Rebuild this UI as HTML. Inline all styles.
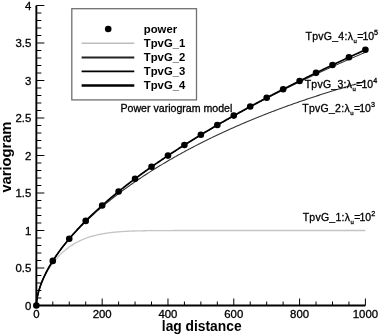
<!DOCTYPE html><html><head><meta charset="utf-8"><style>html,body{margin:0;padding:0;background:#fff}svg{display:block}</style></head><body><svg width="379" height="334" viewBox="0 0 379 334">
<style>.r{stroke:#000;stroke-width:0.3px}</style>
<rect width="379" height="334" fill="#fff"/>
<polyline points="36.35,305.50 36.35,305.19 36.35,305.15 36.35,305.11 36.36,305.06 36.36,305.01 36.36,304.95 36.36,304.88 36.36,304.81 36.37,304.73 36.37,304.64 36.37,304.53 36.38,304.41 36.38,304.28 36.39,304.14 36.40,303.97 36.41,303.79 36.42,303.58 36.44,303.35 36.46,303.10 36.48,302.81 36.51,302.48 36.55,302.12 36.59,301.71 36.64,301.26 36.70,300.75 36.78,300.17 36.87,299.53 36.98,298.82 37.12,298.01 37.29,297.12 37.49,296.11 37.73,294.98 38.03,293.72 38.39,292.31 38.83,290.74 39.37,288.98 40.02,287.02 40.81,284.83 41.77,282.40 42.93,279.71 43.74,277.97 44.55,276.33 45.36,274.77 46.16,273.28 46.97,271.85 47.78,270.49 48.59,269.17 49.40,267.91 50.20,266.69 51.01,265.52 51.82,264.39 52.63,263.30 53.44,262.24 54.25,261.21 55.05,260.22 55.86,259.26 56.67,258.34 57.48,257.44 58.29,256.56 59.09,255.72 59.90,254.89 60.71,254.10 61.52,253.32 62.33,252.57 63.14,251.85 63.94,251.14 64.75,250.45 65.56,249.79 66.37,249.14 67.18,248.52 67.98,247.91 68.79,247.32 69.60,246.74 70.41,246.19 71.22,245.65 72.03,245.13 72.83,244.62 73.64,244.12 74.45,243.65 75.26,243.18 76.07,242.73 76.88,242.30 77.68,241.88 78.49,241.47 79.30,241.07 80.11,240.68 80.92,240.31 81.72,239.95 82.53,239.60 83.34,239.26 84.15,238.93 84.96,238.62 85.77,238.31 86.57,238.01 87.38,237.73 88.19,237.45 89.00,237.18 89.81,236.92 90.61,236.67 91.42,236.43 92.23,236.19 93.04,235.97 93.85,235.75 94.66,235.54 95.46,235.33 96.27,235.14 97.08,234.95 97.89,234.76 98.70,234.59 99.50,234.42 100.31,234.25 101.12,234.10 101.93,233.94 102.74,233.80 103.55,233.66 104.35,233.52 105.16,233.39 105.97,233.26 106.78,233.14 107.59,233.03 108.39,232.92 109.20,232.81 110.01,232.71 110.82,232.61 111.63,232.51 112.44,232.42 113.24,232.33 114.05,232.25 114.86,232.17 115.67,232.09 116.48,232.02 117.28,231.94 118.09,231.88 118.90,231.81 119.71,231.75 120.52,231.69 121.33,231.63 122.13,231.58 122.94,231.52 123.75,231.47 124.56,231.43 125.37,231.38 126.17,231.34 126.98,231.29 127.79,231.25 128.60,231.22 129.41,231.18 130.22,231.15 131.02,231.11 131.83,231.08 132.64,231.05 133.45,231.02 134.26,230.99 135.06,230.97 135.87,230.94 136.68,230.92 137.49,230.90 138.30,230.88 139.11,230.86 139.91,230.84 140.72,230.82 141.53,230.80 142.34,230.78 143.15,230.77 143.96,230.75 144.76,230.74 145.57,230.73 146.38,230.71 147.19,230.70 148.00,230.69 148.80,230.68 149.61,230.67 150.42,230.66 151.23,230.65 152.04,230.64 152.85,230.63 153.65,230.62 154.46,230.62 155.27,230.61 156.08,230.60 156.89,230.60 157.69,230.59 158.50,230.59 159.31,230.58 160.12,230.58 160.93,230.57 161.74,230.57 162.54,230.56 163.35,230.56 164.16,230.56 164.97,230.55 165.78,230.55 166.58,230.55 167.39,230.54 168.20,230.54 169.01,230.54 169.82,230.53 170.63,230.53 171.43,230.53 172.24,230.53 173.05,230.53 173.86,230.52 174.67,230.52 175.47,230.52 176.28,230.52 177.09,230.52 177.90,230.52 178.71,230.52 179.52,230.52 180.32,230.51 181.13,230.51 181.94,230.51 182.75,230.51 183.56,230.51 184.36,230.51 185.17,230.51 185.98,230.51 186.79,230.51 187.60,230.51 188.41,230.51 189.21,230.51 190.02,230.51 190.83,230.51 191.64,230.51 192.45,230.50 193.25,230.50 194.06,230.50 194.87,230.50 195.68,230.50 196.49,230.50 197.30,230.50 198.10,230.50 198.91,230.50 199.72,230.50 200.53,230.50 201.34,230.50 202.15,230.50 202.95,230.50 203.76,230.50 204.57,230.50 205.38,230.50 206.19,230.50 206.99,230.50 207.80,230.50 208.61,230.50 209.42,230.50 210.23,230.50 211.04,230.50 211.84,230.50 212.65,230.50 213.46,230.50 214.27,230.50 215.08,230.50 215.88,230.50 216.69,230.50 217.50,230.50 218.31,230.50 219.12,230.50 219.93,230.50 220.73,230.50 221.54,230.50 222.35,230.50 223.16,230.50 223.97,230.50 224.77,230.50 225.58,230.50 226.39,230.50 227.20,230.50 228.01,230.50 228.82,230.50 229.62,230.50 230.43,230.50 231.24,230.50 232.05,230.50 232.86,230.50 233.66,230.50 234.47,230.50 235.28,230.50 236.09,230.50 236.90,230.50 237.71,230.50 238.51,230.50 239.32,230.50 240.13,230.50 240.94,230.50 241.75,230.50 242.55,230.50 243.36,230.50 244.17,230.50 244.98,230.50 245.79,230.50 246.60,230.50 247.40,230.50 248.21,230.50 249.02,230.50 249.83,230.50 250.64,230.50 251.44,230.50 252.25,230.50 253.06,230.50 253.87,230.50 254.68,230.50 255.49,230.50 256.29,230.50 257.10,230.50 257.91,230.50 258.72,230.50 259.53,230.50 260.33,230.50 261.14,230.50 261.95,230.50 262.76,230.50 263.57,230.50 264.38,230.50 265.18,230.50 265.99,230.50 266.80,230.50 267.61,230.50 268.42,230.50 269.23,230.50 270.03,230.50 270.84,230.50 271.65,230.50 272.46,230.50 273.27,230.50 274.07,230.50 274.88,230.50 275.69,230.50 276.50,230.50 277.31,230.50 278.12,230.50 278.92,230.50 279.73,230.50 280.54,230.50 281.35,230.50 282.16,230.50 282.96,230.50 283.77,230.50 284.58,230.50 285.39,230.50 286.20,230.50 287.01,230.50 287.81,230.50 288.62,230.50 289.43,230.50 290.24,230.50 291.05,230.50 291.85,230.50 292.66,230.50 293.47,230.50 294.28,230.50 295.09,230.50 295.90,230.50 296.70,230.50 297.51,230.50 298.32,230.50 299.13,230.50 299.94,230.50 300.74,230.50 301.55,230.50 302.36,230.50 303.17,230.50 303.98,230.50 304.79,230.50 305.59,230.50 306.40,230.50 307.21,230.50 308.02,230.50 308.83,230.50 309.63,230.50 310.44,230.50 311.25,230.50 312.06,230.50 312.87,230.50 313.68,230.50 314.48,230.50 315.29,230.50 316.10,230.50 316.91,230.50 317.72,230.50 318.52,230.50 319.33,230.50 320.14,230.50 320.95,230.50 321.76,230.50 322.57,230.50 323.37,230.50 324.18,230.50 324.99,230.50 325.80,230.50 326.61,230.50 327.41,230.50 328.22,230.50 329.03,230.50 329.84,230.50 330.65,230.50 331.46,230.50 332.26,230.50 333.07,230.50 333.88,230.50 334.69,230.50 335.50,230.50 336.31,230.50 337.11,230.50 337.92,230.50 338.73,230.50 339.54,230.50 340.35,230.50 341.15,230.50 341.96,230.50 342.77,230.50 343.58,230.50 344.39,230.50 345.20,230.50 346.00,230.50 346.81,230.50 347.62,230.50 348.43,230.50 349.24,230.50 350.04,230.50 350.85,230.50 351.66,230.50 352.47,230.50 353.28,230.50 354.09,230.50 354.89,230.50 355.70,230.50 356.51,230.50 357.32,230.50 358.13,230.50 358.93,230.50 359.74,230.50 360.55,230.50 361.36,230.50 362.17,230.50 362.98,230.50 363.78,230.50 364.59,230.50 365.40,230.50" fill="none" stroke="#c4c4c4" stroke-width="1.3"/>
<polyline points="36.35,305.50 36.35,305.19 36.35,305.15 36.35,305.11 36.36,305.06 36.36,305.01 36.36,304.95 36.36,304.88 36.36,304.81 36.37,304.73 36.37,304.64 36.37,304.53 36.38,304.41 36.38,304.28 36.39,304.14 36.40,303.97 36.41,303.79 36.42,303.58 36.44,303.35 36.46,303.10 36.48,302.81 36.51,302.48 36.55,302.12 36.59,301.71 36.64,301.26 36.70,300.75 36.78,300.17 36.87,299.53 36.98,298.81 37.12,298.01 37.29,297.11 37.49,296.10 37.73,294.97 38.03,293.70 38.39,292.28 38.83,290.69 39.37,288.91 40.02,286.91 40.81,284.68 41.77,282.18 42.93,279.37 43.74,277.55 44.55,275.81 45.36,274.14 46.16,272.53 46.97,270.98 47.78,269.47 48.59,268.02 49.40,266.60 50.20,265.21 51.01,263.86 51.82,262.55 52.63,261.26 53.44,260.00 54.25,258.76 55.05,257.55 55.86,256.36 56.67,255.19 57.48,254.04 58.29,252.91 59.09,251.79 59.90,250.70 60.71,249.62 61.52,248.55 62.33,247.50 63.14,246.47 63.94,245.45 64.75,244.44 65.56,243.44 66.37,242.46 67.18,241.48 67.98,240.52 68.79,239.57 69.60,238.63 70.41,237.70 71.22,236.78 72.03,235.86 72.83,234.96 73.64,234.07 74.45,233.18 75.26,232.31 76.07,231.44 76.88,230.58 77.68,229.72 78.49,228.88 79.30,228.04 80.11,227.21 80.92,226.39 81.72,225.57 82.53,224.76 83.34,223.95 84.15,223.16 84.96,222.36 85.77,221.58 86.57,220.80 87.38,220.03 88.19,219.26 89.00,218.49 89.81,217.74 90.61,216.98 91.42,216.24 92.23,215.50 93.04,214.76 93.85,214.03 94.66,213.30 95.46,212.58 96.27,211.86 97.08,211.15 97.89,210.44 98.70,209.74 99.50,209.04 100.31,208.34 101.12,207.65 101.93,206.96 102.74,206.28 103.55,205.60 104.35,204.93 105.16,204.26 105.97,203.59 106.78,202.93 107.59,202.27 108.39,201.61 109.20,200.96 110.01,200.31 110.82,199.67 111.63,199.02 112.44,198.39 113.24,197.75 114.05,197.12 114.86,196.49 115.67,195.87 116.48,195.25 117.28,194.63 118.09,194.01 118.90,193.40 119.71,192.79 120.52,192.18 121.33,191.58 122.13,190.98 122.94,190.38 123.75,189.79 124.56,189.20 125.37,188.61 126.17,188.02 126.98,187.44 127.79,186.86 128.60,186.28 129.41,185.71 130.22,185.13 131.02,184.56 131.83,184.00 132.64,183.43 133.45,182.87 134.26,182.31 135.06,181.75 135.87,181.20 136.68,180.64 137.49,180.09 138.30,179.55 139.11,179.00 139.91,178.46 140.72,177.92 141.53,177.38 142.34,176.84 143.15,176.31 143.96,175.78 144.76,175.25 145.57,174.72 146.38,174.20 147.19,173.68 148.00,173.15 148.80,172.64 149.61,172.12 150.42,171.61 151.23,171.09 152.04,170.58 152.85,170.08 153.65,169.57 154.46,169.07 155.27,168.56 156.08,168.06 156.89,167.57 157.69,167.07 158.50,166.57 159.31,166.08 160.12,165.59 160.93,165.10 161.74,164.62 162.54,164.13 163.35,163.65 164.16,163.17 164.97,162.69 165.78,162.21 166.58,161.74 167.39,161.26 168.20,160.79 169.01,160.32 169.82,159.85 170.63,159.38 171.43,158.92 172.24,158.45 173.05,157.99 173.86,157.53 174.67,157.07 175.47,156.62 176.28,156.16 177.09,155.71 177.90,155.26 178.71,154.81 179.52,154.36 180.32,153.91 181.13,153.47 181.94,153.02 182.75,152.58 183.56,152.14 184.36,151.70 185.17,151.26 185.98,150.83 186.79,150.39 187.60,149.96 188.41,149.53 189.21,149.10 190.02,148.67 190.83,148.24 191.64,147.81 192.45,147.39 193.25,146.97 194.06,146.55 194.87,146.13 195.68,145.71 196.49,145.29 197.30,144.88 198.10,144.46 198.91,144.05 199.72,143.64 200.53,143.23 201.34,142.82 202.15,142.41 202.95,142.00 203.76,141.60 204.57,141.20 205.38,140.80 206.19,140.39 206.99,140.00 207.80,139.60 208.61,139.20 209.42,138.81 210.23,138.41 211.04,138.02 211.84,137.63 212.65,137.24 213.46,136.85 214.27,136.46 215.08,136.07 215.88,135.69 216.69,135.31 217.50,134.92 218.31,134.54 219.12,134.16 219.93,133.78 220.73,133.41 221.54,133.03 222.35,132.65 223.16,132.28 223.97,131.91 224.77,131.54 225.58,131.16 226.39,130.80 227.20,130.43 228.01,130.06 228.82,129.69 229.62,129.33 230.43,128.97 231.24,128.60 232.05,128.24 232.86,127.88 233.66,127.52 234.47,127.17 235.28,126.81 236.09,126.45 236.90,126.10 237.71,125.75 238.51,125.39 239.32,125.04 240.13,124.69 240.94,124.34 241.75,124.00 242.55,123.65 243.36,123.30 244.17,122.96 244.98,122.62 245.79,122.27 246.60,121.93 247.40,121.59 248.21,121.25 249.02,120.92 249.83,120.58 250.64,120.24 251.44,119.91 252.25,119.57 253.06,119.24 253.87,118.91 254.68,118.58 255.49,118.25 256.29,117.92 257.10,117.59 257.91,117.26 258.72,116.94 259.53,116.61 260.33,116.29 261.14,115.97 261.95,115.64 262.76,115.32 263.57,115.00 264.38,114.68 265.18,114.37 265.99,114.05 266.80,113.73 267.61,113.42 268.42,113.10 269.23,112.79 270.03,112.48 270.84,112.17 271.65,111.86 272.46,111.55 273.27,111.24 274.07,110.93 274.88,110.62 275.69,110.32 276.50,110.01 277.31,109.71 278.12,109.41 278.92,109.11 279.73,108.80 280.54,108.50 281.35,108.20 282.16,107.91 282.96,107.61 283.77,107.31 284.58,107.02 285.39,106.72 286.20,106.43 287.01,106.14 287.81,105.84 288.62,105.55 289.43,105.26 290.24,104.97 291.05,104.68 291.85,104.40 292.66,104.11 293.47,103.82 294.28,103.54 295.09,103.25 295.90,102.97 296.70,102.69 297.51,102.40 298.32,102.12 299.13,101.84 299.94,101.56 300.74,101.29 301.55,101.01 302.36,100.73 303.17,100.46 303.98,100.18 304.79,99.91 305.59,99.63 306.40,99.36 307.21,99.09 308.02,98.82 308.83,98.55 309.63,98.28 310.44,98.01 311.25,97.74 312.06,97.47 312.87,97.21 313.68,96.94 314.48,96.68 315.29,96.41 316.10,96.15 316.91,95.89 317.72,95.63 318.52,95.37 319.33,95.11 320.14,94.85 320.95,94.59 321.76,94.33 322.57,94.07 323.37,93.82 324.18,93.56 324.99,93.31 325.80,93.05 326.61,92.80 327.41,92.55 328.22,92.30 329.03,92.05 329.84,91.80 330.65,91.55 331.46,91.30 332.26,91.05 333.07,90.80 333.88,90.56 334.69,90.31 335.50,90.07 336.31,89.82 337.11,89.58 337.92,89.34 338.73,89.09 339.54,88.85 340.35,88.61 341.15,88.37 341.96,88.13 342.77,87.90 343.58,87.66 344.39,87.42 345.20,87.18 346.00,86.95 346.81,86.71 347.62,86.48 348.43,86.25 349.24,86.01 350.04,85.78 350.85,85.55 351.66,85.32 352.47,85.09 353.28,84.86 354.09,84.63 354.89,84.40 355.70,84.18 356.51,83.95 357.32,83.72 358.13,83.50 358.93,83.27 359.74,83.05 360.55,82.83 361.36,82.60 362.17,82.38 362.98,82.16 363.78,81.94 364.59,81.72 365.40,81.50" fill="none" stroke="#333" stroke-width="1.1"/>
<polyline points="36.35,305.50 36.35,305.19 36.35,305.15 36.35,305.11 36.36,305.06 36.36,305.01 36.36,304.95 36.36,304.88 36.36,304.81 36.37,304.73 36.37,304.64 36.37,304.53 36.38,304.41 36.38,304.28 36.39,304.14 36.40,303.97 36.41,303.79 36.42,303.58 36.44,303.35 36.46,303.10 36.48,302.81 36.51,302.48 36.55,302.12 36.59,301.71 36.64,301.26 36.70,300.75 36.78,300.17 36.87,299.53 36.98,298.81 37.12,298.01 37.29,297.11 37.49,296.10 37.73,294.97 38.03,293.70 38.39,292.28 38.83,290.69 39.37,288.91 40.02,286.91 40.81,284.67 41.77,282.17 42.93,279.36 43.74,277.53 44.55,275.79 45.36,274.11 46.16,272.50 46.97,270.94 47.78,269.43 48.59,267.97 49.40,266.54 50.20,265.15 51.01,263.80 51.82,262.47 52.63,261.18 53.44,259.91 54.25,258.66 55.05,257.44 55.86,256.24 56.67,255.06 57.48,253.90 58.29,252.76 59.09,251.63 59.90,250.53 60.71,249.43 61.52,248.36 62.33,247.29 63.14,246.25 63.94,245.21 64.75,244.19 65.56,243.18 66.37,242.18 67.18,241.19 67.98,240.21 68.79,239.24 69.60,238.29 70.41,237.34 71.22,236.40 72.03,235.47 72.83,234.55 73.64,233.64 74.45,232.73 75.26,231.84 76.07,230.95 76.88,230.07 77.68,229.20 78.49,228.33 79.30,227.47 80.11,226.62 80.92,225.77 81.72,224.93 82.53,224.10 83.34,223.27 84.15,222.45 84.96,221.63 85.77,220.82 86.57,220.02 87.38,219.22 88.19,218.42 89.00,217.64 89.81,216.85 90.61,216.07 91.42,215.30 92.23,214.53 93.04,213.77 93.85,213.00 94.66,212.25 95.46,211.50 96.27,210.75 97.08,210.01 97.89,209.27 98.70,208.53 99.50,207.80 100.31,207.08 101.12,206.35 101.93,205.63 102.74,204.92 103.55,204.21 104.35,203.50 105.16,202.79 105.97,202.09 106.78,201.39 107.59,200.70 108.39,200.01 109.20,199.32 110.01,198.63 110.82,197.95 111.63,197.27 112.44,196.60 113.24,195.92 114.05,195.25 114.86,194.59 115.67,193.92 116.48,193.26 117.28,192.60 118.09,191.95 118.90,191.29 119.71,190.64 120.52,190.00 121.33,189.35 122.13,188.71 122.94,188.07 123.75,187.43 124.56,186.79 125.37,186.16 126.17,185.53 126.98,184.90 127.79,184.28 128.60,183.65 129.41,183.03 130.22,182.41 131.02,181.80 131.83,181.18 132.64,180.57 133.45,179.96 134.26,179.35 135.06,178.75 135.87,178.14 136.68,177.54 137.49,176.94 138.30,176.34 139.11,175.75 139.91,175.15 140.72,174.56 141.53,173.97 142.34,173.38 143.15,172.80 143.96,172.21 144.76,171.63 145.57,171.05 146.38,170.47 147.19,169.89 148.00,169.32 148.80,168.74 149.61,168.17 150.42,167.60 151.23,167.03 152.04,166.46 152.85,165.90 153.65,165.33 154.46,164.77 155.27,164.21 156.08,163.65 156.89,163.10 157.69,162.54 158.50,161.99 159.31,161.43 160.12,160.88 160.93,160.33 161.74,159.78 162.54,159.24 163.35,158.69 164.16,158.15 164.97,157.61 165.78,157.06 166.58,156.52 167.39,155.99 168.20,155.45 169.01,154.91 169.82,154.38 170.63,153.85 171.43,153.32 172.24,152.79 173.05,152.26 173.86,151.73 174.67,151.20 175.47,150.68 176.28,150.15 177.09,149.63 177.90,149.11 178.71,148.59 179.52,148.07 180.32,147.56 181.13,147.04 181.94,146.52 182.75,146.01 183.56,145.50 184.36,144.99 185.17,144.48 185.98,143.97 186.79,143.46 187.60,142.95 188.41,142.45 189.21,141.94 190.02,141.44 190.83,140.94 191.64,140.43 192.45,139.93 193.25,139.43 194.06,138.94 194.87,138.44 195.68,137.94 196.49,137.45 197.30,136.95 198.10,136.46 198.91,135.97 199.72,135.48 200.53,134.99 201.34,134.50 202.15,134.01 202.95,133.53 203.76,133.04 204.57,132.56 205.38,132.07 206.19,131.59 206.99,131.11 207.80,130.63 208.61,130.15 209.42,129.67 210.23,129.19 211.04,128.71 211.84,128.24 212.65,127.76 213.46,127.29 214.27,126.81 215.08,126.34 215.88,125.87 216.69,125.40 217.50,124.93 218.31,124.46 219.12,123.99 219.93,123.52 220.73,123.06 221.54,122.59 222.35,122.12 223.16,121.66 223.97,121.20 224.77,120.74 225.58,120.27 226.39,119.81 227.20,119.35 228.01,118.89 228.82,118.44 229.62,117.98 230.43,117.52 231.24,117.07 232.05,116.61 232.86,116.16 233.66,115.70 234.47,115.25 235.28,114.80 236.09,114.35 236.90,113.90 237.71,113.45 238.51,113.00 239.32,112.55 240.13,112.10 240.94,111.66 241.75,111.21 242.55,110.76 243.36,110.32 244.17,109.88 244.98,109.43 245.79,108.99 246.60,108.55 247.40,108.11 248.21,107.67 249.02,107.23 249.83,106.79 250.64,106.35 251.44,105.91 252.25,105.48 253.06,105.04 253.87,104.61 254.68,104.17 255.49,103.74 256.29,103.30 257.10,102.87 257.91,102.44 258.72,102.01 259.53,101.58 260.33,101.15 261.14,100.72 261.95,100.29 262.76,99.86 263.57,99.43 264.38,99.01 265.18,98.58 265.99,98.15 266.80,97.73 267.61,97.30 268.42,96.88 269.23,96.46 270.03,96.04 270.84,95.61 271.65,95.19 272.46,94.77 273.27,94.35 274.07,93.93 274.88,93.51 275.69,93.09 276.50,92.68 277.31,92.26 278.12,91.84 278.92,91.43 279.73,91.01 280.54,90.60 281.35,90.18 282.16,89.77 282.96,89.36 283.77,88.94 284.58,88.53 285.39,88.12 286.20,87.71 287.01,87.30 287.81,86.89 288.62,86.48 289.43,86.07 290.24,85.66 291.05,85.26 291.85,84.85 292.66,84.44 293.47,84.04 294.28,83.63 295.09,83.23 295.90,82.82 296.70,82.42 297.51,82.01 298.32,81.61 299.13,81.21 299.94,80.81 300.74,80.41 301.55,80.01 302.36,79.61 303.17,79.21 303.98,78.81 304.79,78.41 305.59,78.01 306.40,77.61 307.21,77.21 308.02,76.82 308.83,76.42 309.63,76.03 310.44,75.63 311.25,75.24 312.06,74.84 312.87,74.45 313.68,74.05 314.48,73.66 315.29,73.27 316.10,72.88 316.91,72.49 317.72,72.09 318.52,71.70 319.33,71.31 320.14,70.92 320.95,70.54 321.76,70.15 322.57,69.76 323.37,69.37 324.18,68.98 324.99,68.60 325.80,68.21 326.61,67.82 327.41,67.44 328.22,67.05 329.03,66.67 329.84,66.29 330.65,65.90 331.46,65.52 332.26,65.14 333.07,64.75 333.88,64.37 334.69,63.99 335.50,63.61 336.31,63.23 337.11,62.85 337.92,62.47 338.73,62.09 339.54,61.71 340.35,61.33 341.15,60.95 341.96,60.58 342.77,60.20 343.58,59.82 344.39,59.45 345.20,59.07 346.00,58.69 346.81,58.32 347.62,57.94 348.43,57.57 349.24,57.20 350.04,56.82 350.85,56.45 351.66,56.08 352.47,55.70 353.28,55.33 354.09,54.96 354.89,54.59 355.70,54.22 356.51,53.85 357.32,53.48 358.13,53.11 358.93,52.74 359.74,52.37 360.55,52.00 361.36,51.63 362.17,51.27 362.98,50.90 363.78,50.53 364.59,50.17 365.40,49.80" fill="none" stroke="#000" stroke-width="1.7"/>
<polyline points="36.35,305.50 36.35,305.19 36.35,305.15 36.35,305.11 36.36,305.06 36.36,305.01 36.36,304.95 36.36,304.88 36.36,304.81 36.37,304.73 36.37,304.64 36.37,304.53 36.38,304.41 36.38,304.28 36.39,304.14 36.40,303.97 36.41,303.79 36.42,303.58 36.44,303.35 36.46,303.10 36.48,302.81 36.51,302.48 36.55,302.12 36.59,301.71 36.64,301.26 36.70,300.75 36.78,300.17 36.87,299.53 36.98,298.81 37.12,298.01 37.29,297.11 37.49,296.10 37.73,294.97 38.03,293.70 38.39,292.28 38.83,290.69 39.37,288.91 40.02,286.91 40.81,284.67 41.77,282.17 42.93,279.36 43.74,277.53 44.55,275.79 45.36,274.12 46.16,272.50 46.97,270.94 47.78,269.44 48.59,267.97 49.40,266.54 50.20,265.16 51.01,263.80 51.82,262.48 52.63,261.18 53.44,259.91 54.25,258.67 55.05,257.44 55.86,256.24 56.67,255.06 57.48,253.91 58.29,252.76 59.09,251.64 59.90,250.53 60.71,249.44 61.52,248.36 62.33,247.30 63.14,246.25 63.94,245.22 64.75,244.20 65.56,243.19 66.37,242.19 67.18,241.20 67.98,240.22 68.79,239.25 69.60,238.30 70.41,237.35 71.22,236.41 72.03,235.48 72.83,234.56 73.64,233.65 74.45,232.75 75.26,231.86 76.07,230.97 76.88,230.09 77.68,229.21 78.49,228.35 79.30,227.49 80.11,226.64 80.92,225.79 81.72,224.95 82.53,224.12 83.34,223.30 84.15,222.47 84.96,221.66 85.77,220.85 86.57,220.05 87.38,219.25 88.19,218.46 89.00,217.67 89.81,216.88 90.61,216.11 91.42,215.33 92.23,214.57 93.04,213.80 93.85,213.04 94.66,212.29 95.46,211.54 96.27,210.79 97.08,210.05 97.89,209.31 98.70,208.58 99.50,207.85 100.31,207.12 101.12,206.40 101.93,205.68 102.74,204.97 103.55,204.26 104.35,203.55 105.16,202.85 105.97,202.15 106.78,201.45 107.59,200.76 108.39,200.07 109.20,199.38 110.01,198.70 110.82,198.01 111.63,197.34 112.44,196.66 113.24,195.99 114.05,195.32 114.86,194.66 115.67,193.99 116.48,193.33 117.28,192.68 118.09,192.02 118.90,191.37 119.71,190.72 120.52,190.08 121.33,189.43 122.13,188.79 122.94,188.15 123.75,187.52 124.56,186.88 125.37,186.25 126.17,185.62 126.98,185.00 127.79,184.37 128.60,183.75 129.41,183.13 130.22,182.51 131.02,181.90 131.83,181.29 132.64,180.68 133.45,180.07 134.26,179.46 135.06,178.86 135.87,178.26 136.68,177.66 137.49,177.06 138.30,176.46 139.11,175.87 139.91,175.28 140.72,174.68 141.53,174.10 142.34,173.51 143.15,172.93 143.96,172.34 144.76,171.76 145.57,171.18 146.38,170.61 147.19,170.03 148.00,169.46 148.80,168.89 149.61,168.32 150.42,167.75 151.23,167.18 152.04,166.62 152.85,166.05 153.65,165.49 154.46,164.93 155.27,164.37 156.08,163.82 156.89,163.26 157.69,162.71 158.50,162.16 159.31,161.61 160.12,161.06 160.93,160.51 161.74,159.96 162.54,159.42 163.35,158.88 164.16,158.33 164.97,157.79 165.78,157.26 166.58,156.72 167.39,156.18 168.20,155.65 169.01,155.12 169.82,154.58 170.63,154.05 171.43,153.52 172.24,153.00 173.05,152.47 173.86,151.95 174.67,151.42 175.47,150.90 176.28,150.38 177.09,149.86 177.90,149.34 178.71,148.82 179.52,148.31 180.32,147.79 181.13,147.28 181.94,146.77 182.75,146.26 183.56,145.75 184.36,145.24 185.17,144.73 185.98,144.22 186.79,143.72 187.60,143.21 188.41,142.71 189.21,142.21 190.02,141.71 190.83,141.21 191.64,140.71 192.45,140.21 193.25,139.72 194.06,139.22 194.87,138.73 195.68,138.23 196.49,137.74 197.30,137.25 198.10,136.76 198.91,136.27 199.72,135.78 200.53,135.30 201.34,134.81 202.15,134.33 202.95,133.84 203.76,133.36 204.57,132.88 205.38,132.40 206.19,131.92 206.99,131.44 207.80,130.96 208.61,130.49 209.42,130.01 210.23,129.53 211.04,129.06 211.84,128.59 212.65,128.12 213.46,127.64 214.27,127.17 215.08,126.70 215.88,126.24 216.69,125.77 217.50,125.30 218.31,124.84 219.12,124.37 219.93,123.91 220.73,123.44 221.54,122.98 222.35,122.52 223.16,122.06 223.97,121.60 224.77,121.14 225.58,120.68 226.39,120.23 227.20,119.77 228.01,119.31 228.82,118.86 229.62,118.41 230.43,117.95 231.24,117.50 232.05,117.05 232.86,116.60 233.66,116.15 234.47,115.70 235.28,115.25 236.09,114.80 236.90,114.36 237.71,113.91 238.51,113.47 239.32,113.02 240.13,112.58 240.94,112.13 241.75,111.69 242.55,111.25 243.36,110.81 244.17,110.37 244.98,109.93 245.79,109.49 246.60,109.05 247.40,108.62 248.21,108.18 249.02,107.75 249.83,107.31 250.64,106.88 251.44,106.44 252.25,106.01 253.06,105.58 253.87,105.15 254.68,104.72 255.49,104.29 256.29,103.86 257.10,103.43 257.91,103.00 258.72,102.57 259.53,102.15 260.33,101.72 261.14,101.30 261.95,100.87 262.76,100.45 263.57,100.02 264.38,99.60 265.18,99.18 265.99,98.76 266.80,98.34 267.61,97.92 268.42,97.50 269.23,97.08 270.03,96.66 270.84,96.24 271.65,95.83 272.46,95.41 273.27,94.99 274.07,94.58 274.88,94.16 275.69,93.75 276.50,93.34 277.31,92.92 278.12,92.51 278.92,92.10 279.73,91.69 280.54,91.28 281.35,90.87 282.16,90.46 282.96,90.05 283.77,89.65 284.58,89.25 285.39,88.85 286.20,88.45 287.01,88.05 287.81,87.65 288.62,87.26 289.43,86.86 290.24,86.47 291.05,86.07 291.85,85.68 292.66,85.28 293.47,84.89 294.28,84.50 295.09,84.11 295.90,83.72 296.70,83.33 297.51,82.94 298.32,82.55 299.13,82.16 299.94,81.77 300.74,81.38 301.55,81.00 302.36,80.61 303.17,80.22 303.98,79.84 304.79,79.46 305.59,79.07 306.40,78.69 307.21,78.31 308.02,77.93 308.83,77.55 309.63,77.16 310.44,76.79 311.25,76.41 312.06,76.03 312.87,75.65 313.68,75.27 314.48,74.90 315.29,74.52 316.10,74.14 316.91,73.77 317.72,73.39 318.52,73.02 319.33,72.65 320.14,72.28 320.95,71.90 321.76,71.53 322.57,71.16 323.37,70.79 324.18,70.42 324.99,70.05 325.80,69.68 326.61,69.32 327.41,68.95 328.22,68.58 329.03,68.22 329.84,67.85 330.65,67.49 331.46,67.12 332.26,66.76 333.07,66.39 333.88,66.03 334.69,65.67 335.50,65.31 336.31,64.95 337.11,64.59 337.92,64.23 338.73,63.87 339.54,63.51 340.35,63.15 341.15,62.79 341.96,62.44 342.77,62.08 343.58,61.72 344.39,61.37 345.20,61.01 346.00,60.66 346.81,60.31 347.62,59.95 348.43,59.60 349.24,59.25 350.04,58.90 350.85,58.55 351.66,58.20 352.47,57.85 353.28,57.50 354.09,57.15 354.89,56.80 355.70,56.45 356.51,56.11 357.32,55.76 358.13,55.41 358.93,55.07 359.74,54.72 360.55,54.38 361.36,54.03 362.17,53.69 362.98,53.35 363.78,53.01 364.59,52.66 365.40,52.32" fill="none" stroke="#000" stroke-width="1.0"/>
<circle cx="36.35" cy="305.50" r="3.3"/>
<circle cx="52.80" cy="260.90" r="3.3"/>
<circle cx="69.25" cy="238.69" r="3.3"/>
<circle cx="85.71" cy="220.88" r="3.3"/>
<circle cx="102.16" cy="205.43" r="3.3"/>
<circle cx="118.61" cy="191.52" r="3.3"/>
<circle cx="135.06" cy="178.74" r="3.3"/>
<circle cx="151.52" cy="166.82" r="3.3"/>
<circle cx="167.97" cy="155.59" r="3.3"/>
<circle cx="184.42" cy="144.94" r="3.3"/>
<circle cx="200.87" cy="134.77" r="3.3"/>
<circle cx="217.33" cy="125.01" r="3.3"/>
<circle cx="233.78" cy="115.62" r="3.3"/>
<circle cx="250.23" cy="106.55" r="3.3"/>
<circle cx="266.69" cy="97.77" r="3.3"/>
<circle cx="283.14" cy="89.24" r="3.3"/>
<circle cx="299.59" cy="80.95" r="3.3"/>
<circle cx="316.04" cy="72.87" r="3.3"/>
<circle cx="332.50" cy="64.99" r="3.3"/>
<circle cx="348.95" cy="57.28" r="3.3"/>
<circle cx="365.40" cy="49.75" r="3.3"/>
<path d="M36.35,5.50V305.5H365.40" fill="none" stroke="#000" stroke-width="1.9"/>
<path d="M36.35,305.50h8 M36.35,298.00h5 M36.35,290.50h5 M36.35,283.00h5 M36.35,275.50h5 M36.35,268.00h8 M36.35,260.50h5 M36.35,253.00h5 M36.35,245.50h5 M36.35,238.00h5 M36.35,230.50h8 M36.35,223.00h5 M36.35,215.50h5 M36.35,208.00h5 M36.35,200.50h5 M36.35,193.00h8 M36.35,185.50h5 M36.35,178.00h5 M36.35,170.50h5 M36.35,163.00h5 M36.35,155.50h8 M36.35,148.00h5 M36.35,140.50h5 M36.35,133.00h5 M36.35,125.50h5 M36.35,118.00h8 M36.35,110.50h5 M36.35,103.00h5 M36.35,95.50h5 M36.35,88.00h5 M36.35,80.50h8 M36.35,73.00h5 M36.35,65.50h5 M36.35,58.00h5 M36.35,50.50h5 M36.35,43.00h8 M36.35,35.50h5 M36.35,28.00h5 M36.35,20.50h5 M36.35,13.00h5 M36.35,5.50h8 M36.35,305.5v-7 M52.80,305.5v-4 M69.25,305.5v-4 M85.71,305.5v-4 M102.16,305.5v-7 M118.61,305.5v-4 M135.06,305.5v-4 M151.52,305.5v-4 M167.97,305.5v-7 M184.42,305.5v-4 M200.87,305.5v-4 M217.33,305.5v-4 M233.78,305.5v-7 M250.23,305.5v-4 M266.69,305.5v-4 M283.14,305.5v-4 M299.59,305.5v-7 M316.04,305.5v-4 M332.50,305.5v-4 M348.95,305.5v-4 M365.40,305.5v-7" stroke="#000" stroke-width="1.0"/>
<g font-family="Liberation Sans, sans-serif" font-size="11.4" fill="#000" class="r">
<text x="31.3" y="309.50" text-anchor="end">0</text>
<text x="31.3" y="272.00" text-anchor="end">0.5</text>
<text x="31.3" y="234.50" text-anchor="end">1</text>
<text x="31.3" y="197.00" text-anchor="end">1.5</text>
<text x="31.3" y="159.50" text-anchor="end">2</text>
<text x="31.3" y="122.00" text-anchor="end">2.5</text>
<text x="31.3" y="84.50" text-anchor="end">3</text>
<text x="31.3" y="47.00" text-anchor="end">3.5</text>
<text x="31.3" y="9.50" text-anchor="end">4</text>
<text x="36.35" y="317.5" text-anchor="middle">0</text>
<text x="102.16" y="317.5" text-anchor="middle">200</text>
<text x="167.97" y="317.5" text-anchor="middle">400</text>
<text x="233.78" y="317.5" text-anchor="middle">600</text>
<text x="299.59" y="317.5" text-anchor="middle">800</text>
<text x="365.40" y="317.5" text-anchor="middle">1000</text>
</g>
<text x="201.7" y="330.8" text-anchor="middle" font-family="Liberation Sans, sans-serif" font-weight="bold" font-size="13.8">lag distance</text>
<text transform="translate(10.5,157.1) rotate(-90)" text-anchor="middle" font-family="Liberation Sans, sans-serif" font-weight="bold" font-size="14.7">variogram</text>
<rect x="71.8" y="8.7" width="124.7" height="91.2" fill="#fff" stroke="#707070" stroke-width="1.3"/>
<circle cx="108.2" cy="29" r="3.3"/>
<path d="M81.6,43.3H134.3" stroke="#bdbdbd" stroke-width="1.4"/>
<path d="M81.6,57.4H134.3" stroke="#222" stroke-width="2"/>
<path d="M81.6,71.4H134.3" stroke="#000" stroke-width="1.7"/>
<path d="M81.6,85.5H134.3" stroke="#000" stroke-width="2.3"/>
<g font-family="Liberation Sans, sans-serif" font-weight="bold" font-size="11.3">
<text x="143.8" y="32.7">power</text>
<text x="143.8" y="46.9">TpvG_1</text>
<text x="143.8" y="61.1">TpvG_2</text>
<text x="143.8" y="75.3">TpvG_3</text>
<text x="143.8" y="89.4">TpvG_4</text>
</g>
<text class="r" x="120.5" y="111.5" font-family="Liberation Sans, sans-serif" font-size="10.6">Power variogram model</text>
<text x="305.55" y="39.7" class="r" font-family="Liberation Sans, sans-serif" font-size="10.5" letter-spacing="0.25">TpvG_4:</text>
<text x="347.70" y="39.7" class="r" font-family="Liberation Sans, sans-serif" font-size="10.5">λ</text>
<text x="353.50" y="43.00" class="r" font-family="Liberation Sans, sans-serif" font-size="6">u</text>
<text x="357.20" y="39.7" class="r" font-family="Liberation Sans, sans-serif" font-size="10.5">=</text>
<text x="362.40" y="39.7" class="r" font-family="Liberation Sans, sans-serif" font-size="10.5">10</text>
<text x="374.10" y="34.70" class="r" font-family="Liberation Sans, sans-serif" font-size="7.2">5</text>
<text x="304.65" y="88.0" class="r" font-family="Liberation Sans, sans-serif" font-size="10.5" letter-spacing="0.25">TpvG_3:</text>
<text x="346.80" y="88.0" class="r" font-family="Liberation Sans, sans-serif" font-size="10.5">λ</text>
<text x="352.60" y="91.30" class="r" font-family="Liberation Sans, sans-serif" font-size="6">u</text>
<text x="356.30" y="88.0" class="r" font-family="Liberation Sans, sans-serif" font-size="10.5">=</text>
<text x="361.50" y="88.0" class="r" font-family="Liberation Sans, sans-serif" font-size="10.5">10</text>
<text x="373.20" y="83.00" class="r" font-family="Liberation Sans, sans-serif" font-size="7.2">4</text>
<text x="302.35" y="111.7" class="r" font-family="Liberation Sans, sans-serif" font-size="10.5" letter-spacing="0.25">TpvG_2:</text>
<text x="344.50" y="111.7" class="r" font-family="Liberation Sans, sans-serif" font-size="10.5">λ</text>
<text x="350.30" y="115.00" class="r" font-family="Liberation Sans, sans-serif" font-size="6">u</text>
<text x="354.00" y="111.7" class="r" font-family="Liberation Sans, sans-serif" font-size="10.5">=</text>
<text x="359.20" y="111.7" class="r" font-family="Liberation Sans, sans-serif" font-size="10.5">10</text>
<text x="370.90" y="106.70" class="r" font-family="Liberation Sans, sans-serif" font-size="7.2">3</text>
<text x="302.65" y="220.7" class="r" font-family="Liberation Sans, sans-serif" font-size="10.5" letter-spacing="0.25">TpvG_1:</text>
<text x="344.80" y="220.7" class="r" font-family="Liberation Sans, sans-serif" font-size="10.5">λ</text>
<text x="350.60" y="224.00" class="r" font-family="Liberation Sans, sans-serif" font-size="6">u</text>
<text x="354.30" y="220.7" class="r" font-family="Liberation Sans, sans-serif" font-size="10.5">=</text>
<text x="359.50" y="220.7" class="r" font-family="Liberation Sans, sans-serif" font-size="10.5">10</text>
<text x="371.20" y="215.70" class="r" font-family="Liberation Sans, sans-serif" font-size="7.2">2</text>
</svg></body></html>
